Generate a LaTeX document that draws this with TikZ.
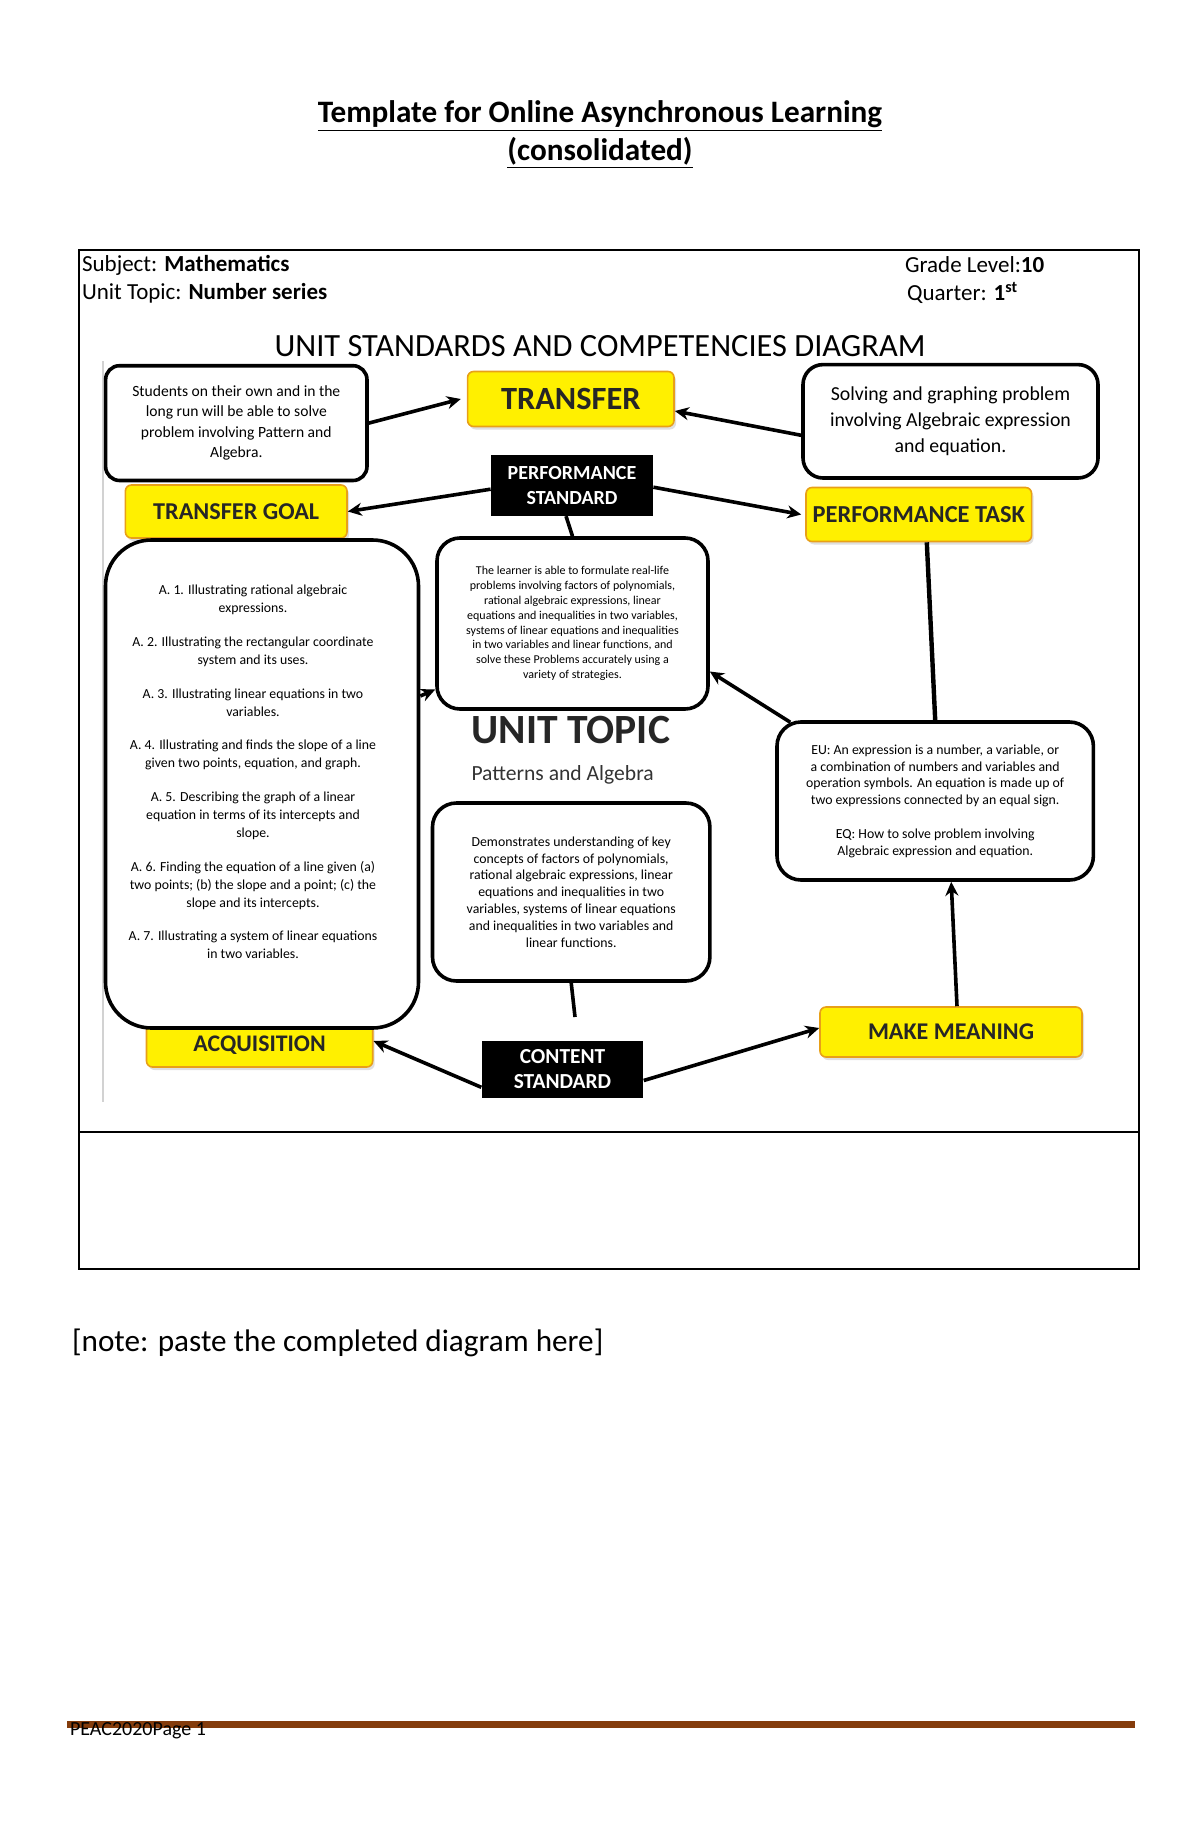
\documentclass[tikz,border=0pt]{standalone}
\usepackage{fontspec}
\setmainfont{Carlito}
\usetikzlibrary{arrows.meta,shadows}
\definecolor{boxyellow}{RGB}{255,240,0}
\definecolor{boxedge}{RGB}{232,160,24}
\definecolor{footbrown}{RGB}{132,60,12}

\begin{document}
\begin{tikzpicture}[x=0.5pt,y=-0.5pt,
  ybox/.style={draw=boxedge,line width=0.8pt,fill=boxyellow,rounded corners=3pt,text=black!85,
    drop shadow={opacity=0.25,shadow xshift=1pt,shadow yshift=-1.5pt}},
  bbox/.style={fill=black,text=white,font=\bfseries\fontsize{10}{12.5}\selectfont,align=center,inner sep=0pt},
  wbox/.style={draw=black,line width=1.8pt,fill=white,rounded corners=#1,align=center,inner sep=2pt},
  wbox/.default=7pt,
  conn/.style={line width=1.8pt,-{Stealth[length=7pt,width=6.5pt]}},
  link/.style={line width=1.8pt}]
    \useasboundingbox (0,0) rectangle (1200,1835);

    % page title
    \node[font=\bfseries\fontsize{15.6}{18}\selectfont] (title) at (600,116) {\underline{Template for Online Asynchronous Learning}};
    \node[font=\bfseries\fontsize{15.6}{18}\selectfont] (subtitle) at (600,153) {\underline{(consolidated)}};

    % frame
    \draw[line width=1pt] (78.5,249.6) rectangle (1139,1269);
    \draw[line width=1pt] (78.5,1132) -- (1139,1132);
    \draw[gray!35,line width=0.8pt] (103,361) -- (103,1102);

    \node[anchor=west,font=\fontsize{11.5}{13}\selectfont] (subject) at (75,265) {Subject: \textbf{Mathematics}};
    \node[anchor=west,font=\fontsize{11.5}{13}\selectfont] (topic) at (75,293) {Unit Topic: \textbf{Number series}};
    \node[anchor=west,font=\fontsize{11.5}{13}\selectfont] (grade) at (898,265) {Grade Level:\textbf{10}};
    \node[anchor=west,font=\fontsize{11.5}{13}\selectfont] (quarter) at (900,293) {Quarter: \textbf{1\textsuperscript{st}}};
    \node[font=\fontsize{16.2}{19}\selectfont] (diagtitle) at (600,346) {UNIT STANDARDS AND COMPETENCIES DIAGRAM};

    % yellow labels
    \node[ybox,minimum width=103.2pt,minimum height=27.5pt,font=\bfseries\fontsize{16.2}{19}\selectfont] (transfer) at (570.8,399) {TRANSFER};
    \node[ybox,minimum width=110.8pt,minimum height=26.5pt,font=\bfseries\fontsize{12.1}{14}\selectfont] (tgoal) at (236.2,511.5) {TRANSFER GOAL};
    \node[ybox,minimum width=110.2pt,minimum height=27pt,font=\bfseries\fontsize{12.2}{14}\selectfont] (ptask) at (918.8,514.5) {PERFORMANCE TASK};
    \node[ybox,minimum width=131pt,minimum height=25pt,font=\bfseries\fontsize{12}{14}\selectfont] (meaning) at (951,1032) {MAKE MEANING};
    \node[ybox,minimum width=113.1pt,minimum height=22pt,font=\bfseries\fontsize{11.9}{14}\selectfont] (acquisition) at (259.6,1045) {ACQUISITION};

    % black labels
    \node[bbox,minimum width=81pt,minimum height=30.5pt] (perfstd) at (572,485.2) {PERFORMANCE\\STANDARD};
    \node[bbox,minimum width=80.8pt,minimum height=28.7pt,font=\bfseries\fontsize{10.7}{12.5}\selectfont] (contstd) at (562.5,1069.3) {CONTENT\\STANDARD};

    % white text boxes
    \node[wbox,minimum width=130.7pt,minimum height=57.4pt,font=\fontsize{7.8}{10.25}\selectfont] (goalbox) at (236.3,423.1)
        {Students on their own and in the\\long run will be able to solve\\problem involving Pattern and\\Algebra.};
    \node[wbox=10pt,minimum width=147.5pt,minimum height=56.7pt,font=\fontsize{9.9}{12.9}\selectfont] (taskbox) at (950.5,421.3)
        {Solving and graphing problem\\involving Algebraic expression\\and equation.};
    \node[wbox=11.5pt,minimum width=135.5pt,minimum height=85.5pt,font=\fontsize{6}{7.4}\selectfont] (psbox) at (572.5,623.5)
        {The learner is able to formulate real-life\\problems involving factors of polynomials,\\rational algebraic expressions, linear\\equations and inequalities in two variables,\\systems of linear equations and inequalities\\in two variables and linear functions, and\\solve these Problems accurately using a\\variety of strategies.};
    \node[wbox=23pt,minimum width=156.5pt,minimum height=244pt] (acqbox) at (262,784) {};
    \node[align=center,font=\fontsize{6.9}{8.97}\selectfont] (acqtext) at (253,772)
        {A. 1. Illustrating rational algebraic\\expressions.\\[7.9pt]
         A. 2. Illustrating the rectangular coordinate\\system and its uses.\\[7.9pt]
         A. 3. Illustrating linear equations in two\\variables.\\[7.9pt]
         A. 4. Illustrating and finds the slope of a line\\given two points, equation, and graph.\\[7.9pt]
         A. 5. Describing the graph of a linear\\equation in terms of its intercepts and\\slope.\\[7.9pt]
         A. 6. Finding the equation of a line given (a)\\two points; (b) the slope and a point; (c) the\\slope and its intercepts.\\[7.9pt]
         A. 7. Illustrating a system of linear equations\\in two variables.};
    \node[wbox=12pt,minimum width=138.7pt,minimum height=89pt,font=\fontsize{6.9}{8.4}\selectfont] (csbox) at (571.2,892)
        {Demonstrates understanding of key\\concepts of factors of polynomials,\\rational algebraic expressions, linear\\equations and inequalities in two\\variables, systems of linear equations\\and inequalities in two variables and\\linear functions.};
    \node[wbox=12pt,minimum width=158.2pt,minimum height=79pt,font=\fontsize{6.9}{8.4}\selectfont] (eubox) at (935.2,801)
        {EU: An expression is a number, a variable, or\\a combination of numbers and variables and\\operation symbols. An equation is made up of\\two expressions connected by an equal sign.\\[8.4pt]
         EQ: How to solve problem involving\\Algebraic expression and equation.};

    % unit topic
    \node[font=\bfseries\fontsize{20.8}{24}\selectfont,text=black!85] (unittopic) at (570.8,730) {UNIT TOPIC};
    \node[font=\fontsize{10.8}{13}\selectfont,text=black!80] (patterns) at (562.6,774.7) {Patterns and Algebra};

    % connectors
    \coordinate (cstub) at (575,1017);
    \draw[conn] (goalbox.east) -- ([xshift=-3pt]transfer.west);
    \draw[conn] ([yshift=-7pt]taskbox.west) -- ([yshift=-6pt]transfer.east);
    \draw[conn] ([yshift=-2pt]perfstd.west) -- (tgoal.east);
    \draw[conn] ([yshift=-1pt]perfstd.east) -- ([xshift=-2pt]ptask.west);
    \draw[link] ([xshift=-3pt]perfstd.south) -- (psbox.north);
    \draw[link,line width=2.2pt] ([xshift=4pt]ptask.south) -- (eubox.north);
    \draw[conn] ([xshift=7.5pt,yshift=-1pt]eubox.north west) -- ([yshift=-24pt]psbox.east);
    \draw[conn] ([yshift=44pt]acqbox.east) -- ([yshift=-33pt]psbox.west);
    \draw[link] (csbox.south) -- (cstub);
    \draw[conn] ([yshift=-9pt]contstd.west) -- ([yshift=2pt]acquisition.east);
    \draw[conn] ([yshift=-5.6pt]contstd.east) -- ([yshift=2pt]meaning.west);
    \draw[conn] ([xshift=3pt]meaning.north) -- ([xshift=8pt]eubox.south);

    % note and footer
    \node[anchor=west,font=\fontsize{15.6}{18}\selectfont] (note) at (65,1343) {[note: paste the completed diagram here]};
    \draw[footbrown,line width=3.5pt] (67,1724) -- (1134.5,1724);
    \node[anchor=west,font=\fontsize{10}{12}\selectfont] (footer) at (63,1731) {PEAC2020Page 1};
\end{tikzpicture}
\end{document}
